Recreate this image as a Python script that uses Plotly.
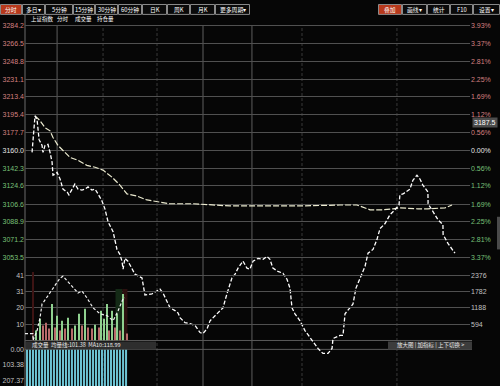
import plotly.graph_objects as go

# ---------------- data ----------------
prev_close = 3160.0
pct_ticks = [3.93, 3.37, 2.81, 2.25, 1.69, 1.12, 0.56, 0.0,
             -0.56, -1.12, -1.69, -2.25, -2.81, -3.37]

# intraday price line: minute index / % change vs previous close
price_t = [3.8, 4.3, 5.4, 6.5, 7.0, 7.6, 9.2, 9.7, 10.8, 12.4, 13.5, 14.6, 15.1, 16.2, 17.3,
           18.9, 20.5, 22.7, 23.7, 25.3, 26.9, 28.6, 30.7, 32.4, 34.0, 36.1, 37.8, 39.4, 41.5,
           43.1, 44.8, 47.5, 48.5, 49.6, 51.2, 52.3, 52.9, 53.9, 55.5, 57.7, 59.3, 63.1, 63.6,
           64.7, 68.5, 72.8, 74.4, 76.6, 78.2, 80.9, 82.5, 83.6, 86.3, 89.0, 91.7, 94.4, 96.0,
           98.2, 99.8, 102.5, 105.2, 106.8, 108.9, 111.6, 113.3, 114.9, 117.6, 119.7, 121.3,
           123.0, 125.7, 128.4, 130.5, 132.1, 133.7, 136.4, 139.1, 141.3, 142.9, 144.0, 145.6,
           148.3, 151.0, 153.7, 156.4, 158.0, 160.7, 163.4, 165.6, 166.1, 169.9, 171.5, 172.6,
           175.3, 176.9, 178.5, 181.7, 183.4, 185.0, 187.7, 189.8, 191.5, 194.1, 196.8, 199.5,
           201.7, 202.2, 203.9, 207.6, 209.2, 211.4, 213.0, 214.6, 217.3, 217.4, 220.0, 222.7,
           225.4, 225.5, 228.1, 231.9]
price_pct = [-0.06, 0.34, 1.09, 0.97, 0.56, 0.34, 0.16, -0.06, 0.16, 0.19, -0.06, -0.37, -0.78,
             -0.75, -0.69, -0.90, -1.22, -1.31, -1.40, -1.22, -1.06, -1.22, -1.25, -1.22, -1.15,
             -1.25, -1.22, -1.37, -1.59, -1.84, -2.25, -2.56, -2.87, -3.12, -3.28, -3.49, -3.74,
             -3.40, -3.49, -3.71, -3.90, -4.02, -4.18, -4.56, -4.52, -4.37, -4.49, -4.74, -4.96,
             -5.05, -5.12, -5.27, -5.43, -5.46, -5.52, -5.74, -5.77, -5.62, -5.37, -5.21, -5.05,
             -4.96, -4.52, -4.02, -3.90, -3.71, -3.49, -3.71, -3.74, -3.49, -3.40, -3.43, -3.34,
             -3.43, -3.71, -3.81, -3.87, -4.06, -4.34, -4.96, -5.15, -5.37, -5.68, -5.90, -6.08,
             -6.24, -6.40, -6.40, -6.24, -5.93, -5.83, -5.83, -5.15, -4.96, -4.84, -4.34, -3.90,
             -3.65, -3.24, -3.12, -2.81, -2.46, -2.31, -2.03, -1.87, -1.72, -1.40, -1.37, -1.22,
             -0.94, -0.78, -0.90, -1.09, -1.31, -1.68, -1.93, -2.18, -2.34, -2.65, -2.93, -3.24]

# average price line
avg_t = [5.4, 8.1, 10.8, 13.5, 15.1, 17.8, 20.5, 24.3, 28.6, 33.4, 37.8, 42.1, 46.9, 51.2, 55.0,
         60.4, 65.8, 72.8, 78.2, 90.6, 99.8, 110.6, 126.7, 148.3, 169.9, 179.0, 186.1, 193.1,
         198.5, 202.2, 211.9, 217.3, 226.5, 230.3]
avg_pct = [1.09, 0.94, 0.72, 0.62, 0.41, 0.16, 0.00, -0.22, -0.31, -0.47, -0.53, -0.62, -0.84,
           -1.09, -1.37, -1.44, -1.56, -1.62, -1.68, -1.68, -1.72, -1.75, -1.75, -1.75, -1.72,
           -1.72, -1.87, -1.87, -1.84, -1.81, -1.84, -1.84, -1.81, -1.72]

# volume bars (pane units)
vol_t = [5.9, 8.1, 9.7, 11.3, 12.9, 14.6, 16.2, 17.3, 18.9, 20.0, 21.6, 23.2, 25.3, 27.0, 29.1,
         30.7, 32.4, 34.0, 36.1, 37.8, 39.9, 41.0, 42.6, 44.2, 45.3, 46.9, 48.5, 49.6, 51.2,
         52.9, 55.0]
vol_val = [0.61, 1.33, 0.91, 1.09, 0.73, 2.24, 0.79, 1.52, 0.61, 1.21, 0.73, 1.39, 0.73, 0.91,
           1.64, 0.91, 1.94, 0.79, 0.73, 0.97, 0.79, 1.82, 1.33, 2.24, 0.61, 1.82, 0.79, 1.64,
           0.61, 2.85, 0.42]
vol_dir = ['g', 'g', 'r', 'r', 'r', 'g', 'r', 'g', 'r', 'g', 'r', 'g', 'r', 'g', 'g',
           'r', 'g', 'r', 'r', 'g', 'r', 'g', 'g', 'g', 'r', 'g', 'r', 'g', 'r', 'g', 'r']

# dim highlight columns in the volume pane
hl_t = [4.3, 50.7, 53.9]
hl_val = [4.2, 3.15, 3.15]
hl_col = ['#3e1414', '#142a16', '#2c1010']

# volume-ratio line in the volume pane
vline_t = [0.0, 4.3, 4.3, 6.5, 8.1, 9.2, 9.7, 13.5, 16.2, 18.9, 20.5, 22.7, 25.3, 28.6, 30.7,
           33.4, 36.7, 40.4, 44.2, 47.5, 50.2, 52.9, 53.9]
vline_val = [0.42, 0.42, 0.0, 0.61, 1.39, 2.24, 2.30, 2.91, 3.33, 3.82, 3.94, 3.64, 3.33, 2.91,
             3.03, 2.61, 2.00, 1.64, 1.52, 1.21, 1.82, 2.55, 2.61]
vol_ticks = [1, 2, 3, 4]
vol_left_labels = ["10", "20", "31", "41"]
vol_right_labels = ["594", "1188", "1782", "2376"]

# bottom indicator pane
ind_t = [1.1, 2.7, 4.3, 5.9, 7.6, 9.2, 10.8, 12.4, 14.0, 15.6, 17.3, 18.9, 20.5, 22.1, 23.7,
         25.3, 27.0, 28.6, 30.2, 31.8, 33.4, 35.1, 36.7, 38.3, 39.9, 41.5, 43.1, 44.8, 46.4,
         48.0, 49.6, 51.2, 52.9, 54.5]
ind_val = [262, 258, 265, 260, 259, 263, 257, 261, 264, 258, 260, 262, 259, 263, 257, 261,
           260, 258, 264, 259, 262, 260, 257, 263, 261, 259, 262, 258, 260, 264, 259, 261,
           263, 258]
ind_ticks = [0.0, 103.38, 207.37]
ind_labels = ["0.00", "103.38", "207.37"]

cur_pct = 0.87
tabs_left = ["分时", "多日▾", "5分钟", "15分钟", "30分钟", "60分钟", "日K", "周K", "月K", "更多周期▾"]
tabs_right = ["叠加", "画线▾", "统计", "F10", "设置▾"]
sub_titles = ["上证指数", "分时", "成交量", "持仓量"]

# ---------------- styling helpers ----------------
W, H = 500, 386
RED, GREEN, WHITE = '#d48080', '#78c078', '#e6e6e6'


def px(x):
    return x / W


def py(y):
    return 1 - y / H


def col(v):
    return RED if v > 0 else (WHITE if v == 0 else GREEN)


left_text = [f'<span style="color:{col(v)}">{prev_close * (1 + v / 100):.1f}</span>' for v in pct_ticks]
right_text = [f'<span style="color:{col(v)}">{abs(v):.2f}%</span>' for v in pct_ticks]

fig = go.Figure()

fig.add_trace(go.Bar(x=hl_t, y=hl_val, width=[0.7, 3.8, 2.7], marker=dict(color=hl_col, line_width=0),
                     xaxis='x', yaxis='y3', hoverinfo='skip'))
fig.add_trace(go.Bar(x=vol_t, y=vol_val, width=0.75,
                     marker=dict(color=['#8fd08f' if d == 'g' else '#b86a6a' for d in vol_dir], line_width=0),
                     xaxis='x', yaxis='y3', hoverinfo='skip'))
fig.add_trace(go.Scatter(x=vline_t, y=vline_val, mode='lines', xaxis='x', yaxis='y3',
                         line=dict(color='#f0f0f0', width=1.2, dash='3px,2px'), hoverinfo='skip'))
# anchor traces so the right-hand axes are drawn
fig.add_trace(go.Scatter(x=vline_t, y=vline_val, mode='lines', xaxis='x', yaxis='y4',
                         line=dict(width=0), opacity=0, hoverinfo='skip'))
fig.add_trace(go.Bar(x=ind_t, y=ind_val, width=1.1, marker=dict(color='#6cc2d2', line_width=0),
                     xaxis='x', yaxis='y5', hoverinfo='skip'))
fig.add_trace(go.Scatter(x=avg_t, y=avg_pct, mode='lines', xaxis='x', yaxis='y2',
                         line=dict(width=0), opacity=0, hoverinfo='skip'))
fig.add_trace(go.Scatter(x=avg_t, y=avg_pct, mode='lines', xaxis='x', yaxis='y',
                         line=dict(color='#ecebd0', width=1.2, dash='6px,2px'), hoverinfo='skip'))
fig.add_trace(go.Scatter(x=price_t, y=price_pct, mode='lines', xaxis='x', yaxis='y',
                         line=dict(color='#ffffff', width=1.3, dash='4px,2px'), hoverinfo='skip'))

tickfont = dict(family='Liberation Sans', size=7, color='#c0c0c0')
yr = [(148 - 386) / 32.05, 148 / 32.05]
common = dict(zeroline=False, showline=False, ticks='', tickfont=tickfont)

fig.update_layout(
    width=W, height=H, margin=dict(l=0, r=0, t=0, b=0),
    paper_bgcolor='#060606', plot_bgcolor='rgba(0,0,0,0)',
    showlegend=False, barmode='overlay',
    xaxis=dict(domain=[px(25), px(470)], range=[0, 240], showgrid=False, showticklabels=False,
               zeroline=False, showline=False),
    yaxis=dict(domain=[0, 1], range=yr, tickvals=pct_ticks, ticktext=left_text,
               showgrid=True, gridcolor='#505050', gridwidth=1, **common),
    yaxis2=dict(overlaying='y', side='right', anchor='x', range=yr, tickvals=pct_ticks,
                ticktext=right_text, showgrid=False, **common),
    yaxis3=dict(domain=[py(340), py(262)], anchor='x', range=[0, 78 / 16.5], tickvals=vol_ticks,
                ticktext=vol_left_labels, showgrid=True, gridcolor='#505050', **common),
    yaxis4=dict(overlaying='y3', side='right', anchor='x', range=[0, 78 / 16.5], tickvals=vol_ticks,
                ticktext=vol_right_labels, showgrid=False, **common),
    yaxis5=dict(domain=[0, py(349)], anchor='x', range=[247, 0], tickvals=ind_ticks,
                ticktext=ind_labels, showgrid=False, **common),
)

shapes = []
# vertical grid lines
for t, solid in [(17.3, True), (42.1, False), (71.2, False), (96.0, True), (122.4, True),
                 (149.4, False), (200.6, False)]:
    shapes.append(dict(type='line', xref='x', yref='paper', x0=t, x1=t, y0=0, y1=py(22),
                       line=dict(color='#5e5e5e' if solid else '#383838', width=1,
                                 dash='solid' if solid else '3px,2px'), layer='below'))
# left border
shapes.append(dict(type='line', xref='paper', yref='paper', x0=px(25), x1=px(25), y0=0, y1=py(11),
                   line=dict(color='#6a6a6a', width=1), layer='below'))
# separator lines of the label strip
for yy in (340, 349):
    shapes.append(dict(type='line', xref='paper', yref='paper', x0=px(25), x1=px(472), y0=py(yy), y1=py(yy),
                       line=dict(color='#5a5a5a', width=1), layer='below'))
# label strips
shapes.append(dict(type='rect', xref='paper', yref='paper', x0=px(26), x1=px(156), y0=py(349), y1=py(341),
                   fillcolor='#2e2e2e', line_width=0, layer='below'))
shapes.append(dict(type='rect', xref='paper', yref='paper', x0=px(388), x1=px(472), y0=py(349), y1=py(341),
                   fillcolor='#3c3c3c', line_width=0, layer='below'))
# scroll bar
shapes.append(dict(type='rect', xref='paper', yref='paper', x0=px(497), x1=px(500), y0=py(248), y1=py(215),
                   fillcolor='#4a4a4a', line_width=0))

annotations = []
cjk = 'Noto Sans CJK SC'
left_edges = [0, 22, 45, 73, 95, 118, 142, 167, 190, 215, 250]
for i, lab in enumerate(tabs_left):
    x0, x1 = left_edges[i], left_edges[i + 1]
    shapes.append(dict(type='rect', xref='paper', yref='paper', x0=px(x0 + 0.5), x1=px(x1 - 0.5),
                       y0=py(10.5), y1=py(0.5), fillcolor='#b8391c' if i == 0 else '#0a0a0a',
                       line=dict(color='#8a8a8a', width=1)))
    annotations.append(dict(xref='paper', yref='paper', x=px((x0 + x1) / 2), y=py(5.5), text=lab,
                            showarrow=False, font=dict(family=cjk, size=5.8, color='#ffffff'),
                            xanchor='center', yanchor='middle'))
right_edges = [378, 402, 427, 450, 473, 500]
for i, lab in enumerate(tabs_right):
    x0, x1 = right_edges[i], right_edges[i + 1]
    shapes.append(dict(type='rect', xref='paper', yref='paper', x0=px(x0 + 0.5), x1=px(x1 - 0.5),
                       y0=py(10.5), y1=py(0.5), fillcolor='#b8391c' if i == 0 else '#0a0a0a',
                       line=dict(color='#8a8a8a', width=1)))
    annotations.append(dict(xref='paper', yref='paper', x=px((x0 + x1) / 2), y=py(5.5), text=lab,
                            showarrow=False, font=dict(family=cjk, size=5.8, color='#ffffff'),
                            xanchor='center', yanchor='middle'))

sub_x = [29, 55, 73, 95]
for x, lab in zip(sub_x, sub_titles):
    annotations.append(dict(xref='paper', yref='paper', x=px(x), y=py(15.5), text=lab, showarrow=False,
                            font=dict(family=cjk, size=5.5, color='#ffffff'), xanchor='left', yanchor='middle'))

annotations.append(dict(xref='paper', yref='paper', x=px(30), y=py(345), text='成交量  均量线:101.38  MA10:118.99',
                        showarrow=False, font=dict(family=cjk, size=5.5, color='#e8e8e8'),
                        xanchor='left', yanchor='middle'))
annotations.append(dict(xref='paper', yref='paper', x=px(430), y=py(345), text='放大图 | 加指标 | 上下切换 >',
                        showarrow=False, font=dict(family=cjk, size=5.5, color='#e8e8e8'),
                        xanchor='center', yanchor='middle'))
annotations.append(dict(xref='paper', yref='y', x=px(485), y=cur_pct,
                        text=f'{prev_close * (1 + cur_pct / 100):.1f}', showarrow=False,
                        font=dict(family='Liberation Sans', size=7, color='#ffffff'),
                        bgcolor='#4c4c4c', borderpad=1, xanchor='center', yanchor='middle'))

fig.update_layout(shapes=shapes, annotations=annotations)
fig.write_html('out.html')
